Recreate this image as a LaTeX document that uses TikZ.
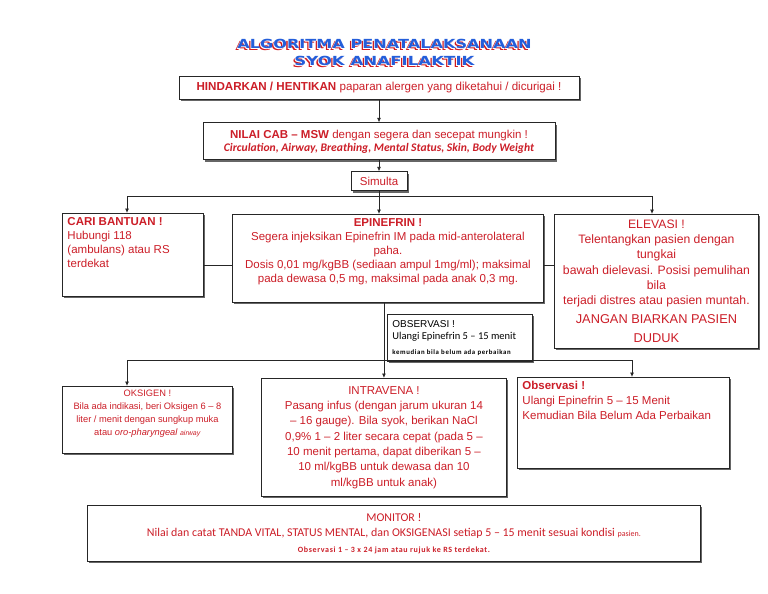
\documentclass[tikz,border=0pt]{standalone}
\usepackage{fontspec}
\setmainfont{Liberation Sans}
\newfontfamily\calibri{Carlito}
\newfontfamily\artfont{DejaVu Sans}
\usepackage{xcolor}
\usepackage{graphicx}
\usetikzlibrary{shapes,arrows.meta,positioning,calc,shadows}
\definecolor{alertred}{RGB}{204,30,40}
\definecolor{titleblue}{RGB}{36,94,218}
\definecolor{titlered}{RGB}{210,26,30}
\newcommand{\wordart}[1]{\leavevmode\rlap{\hspace{-1.6pt}\raisebox{-1.6pt}{\textcolor{titlered}{#1}}}\rlap{\hspace{-0.6pt}\raisebox{-0.6pt}{\textcolor{white}{#1}}}\textcolor{titleblue}{#1}}
\newcommand{\boxtext}[4]{\parbox[c][#2][#3]{#1}{#4}}
\tikzstyle{panel} = [rectangle, draw=black!85, line width=0.9pt, fill=white, drop shadow={shadow xshift=1.8pt, shadow yshift=-1.8pt, fill=black!60, opacity=1}, inner xsep=5pt, inner ysep=4pt, text=alertred, font=\fontsize{11.5}{14}\selectfont]
\tikzstyle{link} = [line width=0.8pt, draw=black!85]
\tikzstyle{arrow} = [link, -{Latex[length=4.5pt,width=4pt]}]

\begin{document}
\begin{tikzpicture}[x=1pt, y=-1pt]
\useasboundingbox[fill=white] (0,0) rectangle (768,594);

\node (title) [align=center, font=\artfont\bfseries\fontsize{12.5}{17}\selectfont] at (384.5,53.5) {\scalebox{1.29}[1]{\wordart{ALGORITMA PENATALAKSANAAN}}\\\scalebox{1.33}[1]{\wordart{SYOK ANAFILAKTIK}}};

\node (avoid) [panel, minimum width=400pt, minimum height=23pt, inner ysep=2pt, font=\fontsize{11.6}{13}\selectfont] at (379,87.5) {\textbf{HINDARKAN / HENTIKAN} paparan alergen yang diketahui / dicurigai !};
\node (assess) [panel, below=23pt of avoid, minimum width=352pt, minimum height=37pt, inner ysep=2pt, align=center, font=\fontsize{11.5}{13}\selectfont] {\textbf{NILAI CAB – MSW} dengan segera dan secepat mungkin !\\{\calibri\bfseries\itshape\fontsize{11.6}{13}\selectfont Circulation, Airway, Breathing, Mental Status, Skin, Body Weight}};
\node (simul) [panel, below=11pt of assess, minimum width=56pt, minimum height=19pt, inner sep=0pt] {Simulta};

\node (help) [panel, anchor=north west] at (62,213) {\boxtext{131pt}{75pt}{t}{\raggedright\textbf{CARI BANTUAN !}\\Hubungi 118\\(ambulans) atau RS\\terdekat}};
\node (epi) [panel, anchor=north west] at (232,214) {\boxtext{301pt}{80pt}{t}{\centering\textbf{EPINEFRIN !}\\Segera injeksikan Epinefrin IM pada mid-anterolateral\\paha.\\Dosis 0,01 mg/kgBB (sediaan ampul 1mg/ml); maksimal\\pada dewasa 0,5 mg, maksimal pada anak 0,3 mg.}};
\node (elev) [panel, anchor=north west, inner xsep=3pt, font=\fontsize{12.2}{15.3}\selectfont] at (554,214) {\boxtext{198pt}{126pt}{c}{\centering ELEVASI !\\Telentangkan pasien dengan\\tungkai\\bawah dielevasi. Posisi pemulihan\\bila\\terjadi distres atau pasien muntah.\par{\fontsize{12.8}{19}\selectfont JANGAN BIARKAN PASIEN\\DUDUK\par}}};
\node (obsnote) [panel, anchor=north west, text=black, font=\fontsize{10}{12}\selectfont] at (387,314) {\boxtext{135pt}{39pt}{c}{\raggedright OBSERVASI !\par{\calibri\fontsize{10.5}{12.5}\selectfont Ulangi Epinefrin 5 – 15 menit\par}{\calibri\bfseries\addfontfeature{LetterSpace=9}\fontsize{6.8}{15}\selectfont kemudian bila belum ada perbaikan\par}}};

\node (oxy) [panel, anchor=north west, font=\fontsize{9.3}{13}\selectfont] at (62,386) {\boxtext{160pt}{59pt}{t}{\centering OKSIGEN !\\Bila ada indikasi, beri Oksigen 6 – 8\\liter / menit dengan sungkup muka\\atau \textit{oro-pharyngeal {\fontsize{7}{13}\selectfont airway}}}};
\node (iv) [panel, anchor=north west, font=\fontsize{11.5}{15.3}\selectfont] at (261,378) {\boxtext{235pt}{110pt}{c}{\centering INTRAVENA !\\Pasang infus (dengan jarum ukuran 14\\– 16 gauge). Bila syok, berikan NaCl\\0,9\% 1 – 2 liter secara cepat (pada 5 –\\10 menit pertama, dapat diberikan 5 –\\10 ml/kgBB untuk dewasa dan 10\\ml/kgBB untuk anak)}};
\node (obs) [panel, anchor=north west, font=\fontsize{11.5}{15}\selectfont] at (517,377) {\boxtext{202pt}{83pt}{t}{\raggedright\textbf{Observasi !}\\Ulangi Epinefrin 5 – 15 Menit\\Kemudian Bila Belum Ada Perbaikan}};

\node (monitor) [panel, anchor=north west, font=\calibri\fontsize{11.9}{15.5}\selectfont] at (87,505) {\boxtext{603pt}{48pt}{c}{\centering MONITOR !\\Nilai dan catat TANDA VITAL, STATUS MENTAL, dan OKSIGENASI setiap 5 – 15 menit sesuai kondisi {\fontsize{8}{15.5}\selectfont pasien.}\\{\bfseries\addfontfeature{LetterSpace=8}\fontsize{8}{15.5}\selectfont Observasi 1 – 3 x 24 jam atau rujuk ke RS terdekat.}}};

\coordinate (fork1l) at (127,196);
\coordinate (fork1r) at (652,196);
\coordinate (fork2l) at (127,360);
\coordinate (fork2r) at (632,360);

\draw [arrow] (avoid) -- (assess);
\draw [arrow] (assess) -- (simul);
\draw [arrow] (simul) -- (simul |- epi.north);
\draw [link] (fork1l) -- (fork1r);
\draw [arrow] (fork1l) -- (fork1l |- help.north);
\draw [arrow] (fork1r) -- (fork1r |- elev.north);
\draw [link] ([yshift=-10.5pt]help.east) -- ([yshift=-10.5pt]help.east -| epi.west);
\draw [link] ([yshift=-7pt]epi.east) -- ([yshift=-7pt]epi.east -| elev.west);
\draw [arrow] (epi.south -| iv.north) -- (iv.north);
\draw [link] (fork2l) -- (fork2r);
\draw [arrow] (fork2l) -- (fork2l |- oxy.north);
\draw [arrow] (fork2r) -- (fork2r |- obs.north);
\end{tikzpicture}
\end{document}
